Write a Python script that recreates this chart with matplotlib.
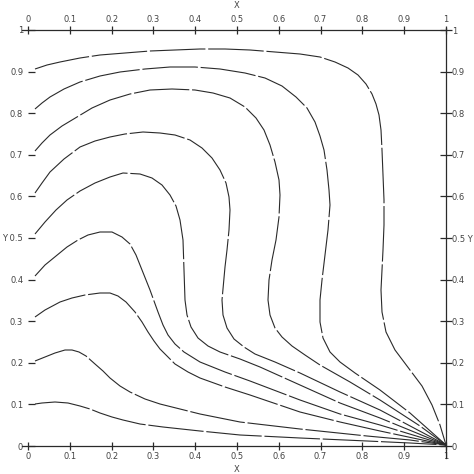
import numpy as np
import matplotlib
matplotlib.use("Agg")
import matplotlib.pyplot as plt

# ---- data ----
x_ticks = [0, 0.1, 0.2, 0.3, 0.4, 0.5, 0.6, 0.7, 0.8, 0.9, 1.0]
x_tick_labels = ["0", "0.1", "0.2", "0.3", "0.4", "0.5", "0.6", "0.7", "0.8", "0.9", "1"]
y_ticks = [0, 0.1, 0.2, 0.3, 0.4, 0.5, 0.6, 0.7, 0.8, 0.9, 1.0]
y_left_labels = ["0", "0.1", "0.2", "0.3", "0.4", "Y 0.5", "0.6", "0.7", "0.8", "0.9", "1"]
y_right_labels = ["0", "0.1", "0.2", "0.3", "0.4", "0.5 Y", "0.6", "0.7", "0.8", "0.9", "1"]

W, H = 474, 474
PX0, PX1, PY0, PY1 = 28, 446, 446, 30  # axes pixel frame

def px(pts):
    return ([(p[0] - PX0) / (PX1 - PX0) for p in pts],
            [(PY0 - p[1]) / (PY0 - PY1) for p in pts])

# streamlines, points measured in picture pixels
line_01 = [(35,404),(42,403),(55,402),(68,403),(80,406),(90,409),(100,413),(112,417),(123,420),(140,424),(163,427),(200,431),(240,435),(300,438),(367,441),(410,443),(446,445)]
line_02 = [(35,361),(45,357),(55,353),(65,350),(72,350),(79,352),(86,356),(95,364),(103,371),(110,378),(120,386),(130,392),(145,399),(160,404),(200,414),(240,422),(300,429),(367,436),(410,440),(446,445)]
line_03 = [(35,317),(45,310),(60,302),(72,298),(85,295),(100,293),(110,293),(118,296),(126,302),(135,312),(142,322),(148,332),(154,341),(160,349),(168,357),(175,364),(188,372),(200,378),(225,387),(250,395),(300,412),(340,422),(380,431),(446,445)]
line_04 = [(35,276),(45,265),(56,256),(67,247),(78,240),(88,235),(100,232),(112,232),(122,237),(130,244),(136,255),(142,270),(150,290),(158,312),(163,325),(168,335),(175,344),(184,352),(200,362),(225,372),(250,381),(300,400),(340,414),(380,425),(446,445)]
line_05 = [(35,234),(45,222),(56,210),(67,200),(80,191),(95,183),(110,177),(123,173),(140,174),(152,178),(162,185),(170,195),(176,206),(180,220),(183,240),(184,270),(185,300),(187,315),(191,327),(198,338),(208,346),(220,352),(240,359),(260,367),(300,385),(340,403),(380,418),(446,445)]
line_06 = [(35,193),(42,183),(50,172),(64,159),(80,147),(95,141),(110,137),(125,134),(143,132),(160,133),(175,135),(190,140),(202,148),(212,158),(220,170),(226,183),(229,197),(230,210),(229,230),(227,250),(225,267),(222,300),(223,315),(227,328),(234,339),(244,347),(255,354),(275,362),(300,373),(340,392),(380,410),(446,445)]
line_07 = [(35,151),(42,143),(50,135),(62,126),(77,117),(92,108),(110,100),(130,94),(150,90),(172,89),(195,90),(213,93),(230,98),(245,107),(256,118),(264,130),(270,145),(275,162),(279,180),(280,195),(279,217),(276,240),(272,260),(269,280),(268,300),(270,315),(275,328),(282,337),(292,346),(305,355),(320,365),(350,382),(380,400),(420,426),(446,445)]
line_08 = [(35,109),(42,103),(50,97),(64,89),(80,82),(100,76),(120,72),(145,69),(170,67),(195,67),(220,69),(245,73),(265,78),(282,86),(296,97),(307,108),(315,122),(320,136),(324,150),(327,170),(329,190),(330,205),(328,230),(325,255),(322,280),(320,300),(320,322),(323,338),(330,352),(340,362),(355,373),(380,390),(410,413),(446,445)]
line_09 = [(35,69),(47,65),(60,62),(80,58),(100,55),(125,53),(150,51),(175,50),(200,49),(225,49),(250,50),(275,52),(300,54),(320,57),(335,62),(348,68),(358,75),(366,84),(372,94),(376,104),(379,115),(381,130),(382,150),(383,175),(384,200),(384,225),(383,250),(382,270),(381,290),(382,312),(386,332),(395,350),(410,370),(422,386),(432,405),(440,425),(446,445)]

streamlines = [line_01, line_02, line_03, line_04, line_05, line_06, line_07, line_08, line_09]

# ---- figure ----
fig = plt.figure(figsize=(W / 100, H / 100), dpi=100)
ax = fig.add_axes([PX0 / W, (H - PY0) / H, (PX1 - PX0) / W, (PY0 - PY1) / H])
ax.set_xlim(0, 1)
ax.set_ylim(0, 1)

col = "#2a2a2a"
for pts in streamlines:
    xs, ys = px(pts)
    ax.plot(xs, ys, color=col, lw=0.8, clip_on=False, dashes=(50, 2.5),
            solid_capstyle="butt", solid_joinstyle="round")

fs = 6
tcol = "#444444"
ax.spines["left"].set_visible(False)
ax.spines["right"].set_visible(False)
for s in ["top", "bottom"]:
    ax.spines[s].set_color(col)
    ax.spines[s].set_linewidth(0.9)
ax.spines["top"].set_bounds(-0.015, 1)
ax.spines["bottom"].set_bounds(-0.015, 1)

ax.set_xticks(x_ticks)
ax.set_xticklabels(x_tick_labels)
ax.tick_params(axis="x", top=True, bottom=True, labeltop=True, labelbottom=True,
               direction="inout", length=5.5, width=0.9, color=col,
               labelsize=fs, labelcolor=tcol, pad=1.5)
ax.set_yticks(y_ticks)
ax.set_yticklabels(y_left_labels)
ax.tick_params(axis="y", left=True, right=False, direction="in", length=5, width=0.9,
               color=col, labelsize=fs, labelcolor=tcol, pad=3.5)

ax2 = ax.twinx()
ax2.set_ylim(0, 1)
for s in ["left", "top", "bottom"]:
    ax2.spines[s].set_visible(False)
ax2.spines["right"].set_color(col)
ax2.spines["right"].set_linewidth(0.9)
ax2.spines["right"].set_bounds(-0.03, 1.005)
ax2.set_yticks(y_ticks)
ax2.set_yticklabels(y_right_labels)
ax2.tick_params(axis="y", right=True, direction="inout", length=8.5, width=0.9,
                color=col, labelsize=fs, labelcolor=tcol, pad=0)

fig.text(237 / W, 1 - 5 / H, "X", ha="center", va="center", fontsize=fs, color=tcol)
fig.text(237 / W, 1 - 469 / H, "X", ha="center", va="center", fontsize=fs, color=tcol)

fig.savefig("out.png", dpi=100)
